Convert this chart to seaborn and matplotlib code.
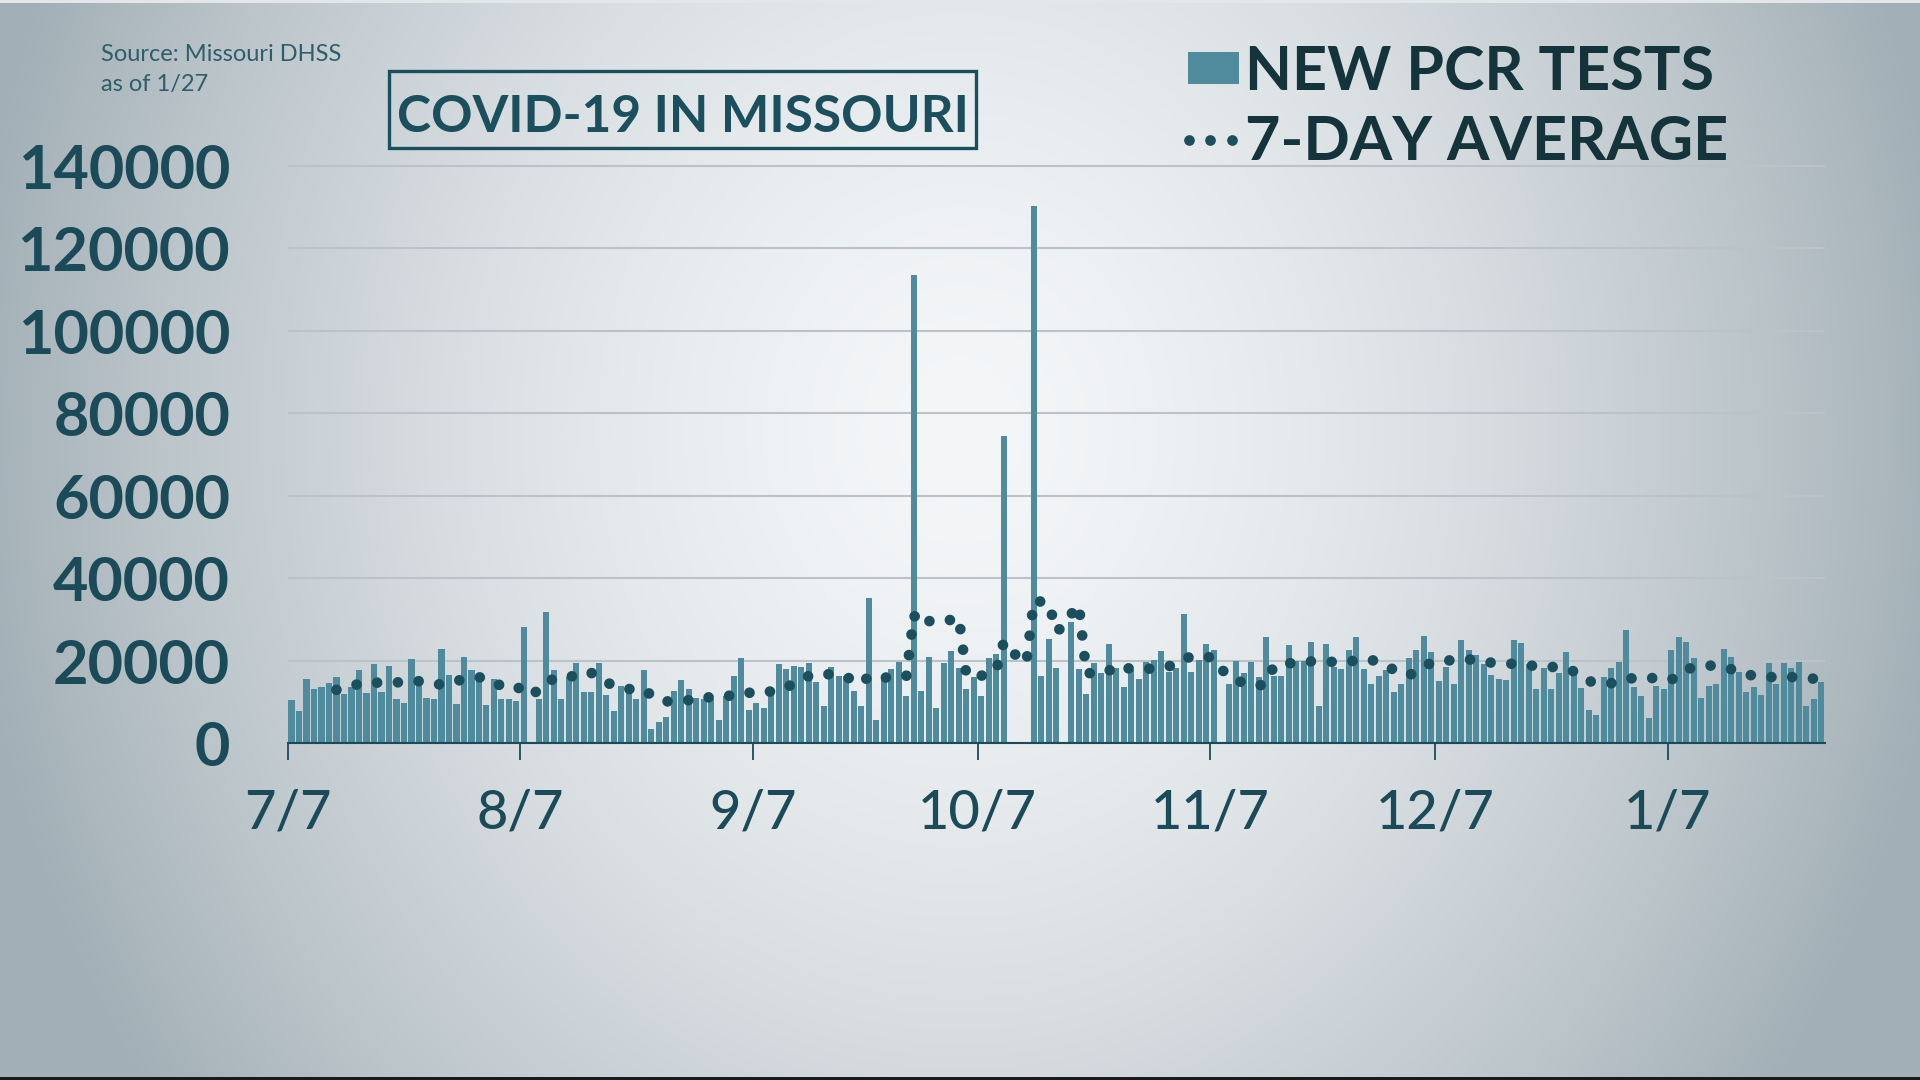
import numpy as np
import pandas as pd
import seaborn as sns
import matplotlib.pyplot as plt
from matplotlib.patches import Rectangle
from matplotlib.lines import Line2D

# daily new PCR tests, one value per day from 7/7 (day 0) to 1/27 (day 204); 0 = no report that day
tests = [
    10500, 7800, 15600, 13100, 13600, 14500, 16000, 11900, 13600, 17700,
    12200, 19100, 12400, 18800, 10700, 9800, 20300, 15000, 11000, 10700,
    22900, 16500, 9500, 20900, 17700, 15000, 9300, 15600, 10700, 10700,
    10100, 28100, 0, 10700, 31900, 17700, 10700, 16000, 19400, 12400,
    12400, 19400, 11600, 7800, 13900, 13900, 10700, 17700, 3400, 5200,
    6400, 12700, 15400, 13100, 11000, 10700, 10700, 5700, 11300, 16200,
    20600, 8100, 9800, 8400, 12400, 19100, 18000, 18800, 18500, 19400,
    14800, 9000, 18500, 16200, 16200, 12700, 9000, 35100, 5500, 15400,
    18000, 19700, 11500, 113500, 12700, 20800, 8400, 19400, 22300, 18200,
    13100, 16000, 11500, 20600, 21500, 74400, 0, 0, 0, 130200,
    16200, 25200, 18200, 0, 29400, 18000, 11800, 19300, 17100, 24000,
    18200, 13600, 17700, 15600, 19700, 20200, 22300, 17300, 18200, 31300,
    17300, 20200, 24000, 22600, 0, 14400, 20000, 17100, 19700, 16000,
    25700, 16200, 16200, 23700, 20000, 20000, 24600, 8900, 24000, 18500,
    18000, 22600, 25700, 18000, 14200, 16200, 17700, 12400, 14400, 20600,
    22600, 26000, 22000, 15100, 18500, 14200, 24900, 22600, 21400, 19100,
    16500, 15600, 15400, 25100, 24300, 19100, 13100, 18200, 13100, 17100,
    22000, 18200, 13300, 8100, 6900, 16000, 18200, 19700, 27500, 13600,
    11300, 6000, 13900, 13100, 22600, 25700, 24600, 20600, 11000, 13900,
    14400, 22900, 20800, 17300, 12400, 13600, 11600, 19300, 14400, 19300,
    18200, 19700, 8900, 10700, 14700,
]

# 7-day average, first value is day 6 (7/13)
avg_start = 6
avg7 = [
    12900, 13300, 13900, 14300, 14500, 14600, 14700, 14700, 14700, 14800,
    14900, 15000, 14700, 14300, 14200, 14600, 15100, 15400, 15700, 16000,
    15300, 14400, 14000, 14000, 13100, 13900, 12100, 12600, 14700, 15600,
    15700, 16300, 16000, 16900, 17000, 15800, 14600, 14100, 13500, 13100,
    12900, 12900, 11600, 10400, 10100, 10100, 10200, 10400, 10300, 10700,
    11300, 11300, 11400, 11600, 12200, 12200, 12100, 12000, 12600, 13400,
    13700, 14200, 15300, 16300, 16800, 16800, 16600, 16400, 16000, 15200,
    14400, 16200, 16000, 15800, 16100, 16400, 16300, 31000, 28500, 29600,
    29300, 29600, 29900, 30400, 16500, 16900, 16300, 17400, 17800, 24600,
    22800, 20200, 19500, 34500, 34300, 33900, 27100, 28300, 31300, 33500,
    16900, 17000, 16800, 17500, 18800, 18300, 18000, 18100, 18000, 18100,
    18200, 18600, 19300, 20500, 20900, 21200, 21000, 20500, 18000, 16000,
    15200, 14600, 14300, 13900, 14500, 18700, 19000, 19300, 19600, 19700,
    19800, 19800, 19700, 19700, 19700, 19800, 20000, 20200, 20200, 19500,
    18600, 17800, 17000, 16400, 17300, 18700, 19400, 19600, 20000, 20100,
    20200, 20300, 20000, 19700, 19500, 19400, 19300, 19200, 19000, 18800,
    18700, 18600, 18500, 18200, 17800, 17400, 16400, 15000, 14700, 14600,
    14500, 14800, 15400, 15800, 15900, 15800, 15700, 15500, 15300, 16700,
    17900, 18300, 18600, 18800, 18700, 18300, 17900, 17200, 16700, 16300,
    16100, 16000, 16000, 16000, 16000, 15900, 15800, 15600, 15500,
]

tick_days = [0, 31, 62, 92, 123, 153, 184]
tick_labels = ['7/7', '8/7', '9/7', '10/7', '11/7', '12/7', '1/7']
y_ticks = [0, 20000, 40000, 60000, 80000, 100000, 120000, 140000]

df = pd.DataFrame({'day': np.arange(len(tests)), 'tests': tests})
df_avg = pd.DataFrame({'day': np.arange(avg_start, avg_start + len(avg7)), 'avg': avg7})

BAR = '#4f8b9c'
DOT = '#1b4f5e'
TEXT = '#1b4a58'
LEG = '#15333b'
GRID = '#bcc3c8'

sns.set_style('white')
plt.rcParams['font.family'] = ['Lato', 'DejaVu Sans']

W, H = 1920, 1080
fig = plt.figure(figsize=(19.2, 10.8), dpi=100)

# background: soft radial gradient
yy, xx = np.mgrid[0:H, 0:W]
d = np.sqrt(((xx - 960) / 1000.0) ** 2 + ((yy - 430) / 1150.0) ** 2)
t = np.clip(d, 0, 1) ** 1.6
c0 = np.array([244, 246, 248]) / 255.0
c1 = np.array([162, 175, 182]) / 255.0
grad = c0 * (1 - t[..., None]) + c1 * t[..., None]
bg = fig.add_axes([0, 0, 1, 1], zorder=-10)
bg.imshow(grad, aspect='auto', extent=[0, 1, 0, 1], origin='upper')
bg.set_xlim(0, 1)
bg.set_ylim(0, 1)
bg.axis('off')

# main axes, placed in pixels
left, right, base = 287.7, 1825.0, 743.0
ymax = 142000
px_per_unit = 577.0 / 140000
top = base - ymax * px_per_unit
ax = fig.add_axes([left / W, (H - base) / H, (right - left) / W, (base - top) / H])
ax.patch.set_alpha(0)

sns.barplot(data=df, x='day', y='tests', native_scale=True, color=BAR, saturation=1,
            width=0.82, linewidth=0, errorbar=None, ax=ax, zorder=2)
sns.lineplot(data=df_avg, x='day', y='avg', ax=ax, color=DOT, lw=7.7,
             linestyle=(0, (0.001, 1.94)), dash_capstyle='round', errorbar=None, zorder=3)

ax.set_xlim(-0.5, len(tests) - 0.5)
ax.set_ylim(0, ymax)
ax.set_xticks([d - 0.5 for d in tick_days])
ax.set_xticklabels(tick_labels)
ax.set_yticks(y_ticks)
ax.set_yticklabels([str(v) for v in y_ticks])
ax.set_xlabel('')
ax.set_ylabel('')
ax.yaxis.grid(True, color=GRID, lw=1.5)
ax.xaxis.grid(False)
ax.set_axisbelow(True)
for s in ['left', 'top', 'right']:
    ax.spines[s].set_visible(False)
ax.spines['bottom'].set_color(TEXT)
ax.spines['bottom'].set_linewidth(1.5)
ax.tick_params(axis='x', length=12.5, width=1.3, color=TEXT, pad=20,
               labelsize=39, labelcolor=TEXT, bottom=True)
ax.tick_params(axis='y', length=0, pad=41.5, labelsize=44, labelcolor=TEXT, left=False)
for lab in ax.get_yticklabels():
    lab.set_fontweight('bold')
for lab in ax.get_xticklabels():
    lab.set_fontweight('medium')


def fx(x):
    return x / W


def fy(y):
    return 1 - y / H


# source note
fig.text(fx(101), fy(61), 'Source: Missouri DHSS', fontsize=17, color='#2f5e6b', va='baseline')
fig.text(fx(101), fy(90.5), 'as of 1/27', fontsize=17, color='#2f5e6b', va='baseline')

# boxed title
fig.add_artist(Rectangle((fx(389), fy(148.3)), (976 - 389) / W, (148.3 - 70.7) / H,
                         transform=fig.transFigure, fill=False, ec='#1b4f5e', lw=2.4))
fig.text(fx(682.5), fy(132), 'COVID-19 IN MISSOURI', ha='center', va='baseline',
         fontsize=37, fontweight='bold', color='#1b4f5e')

# legend
fig.add_artist(Rectangle((fx(1188), fy(84)), 51 / W, 32 / H, transform=fig.transFigure,
                         color=BAR, lw=0))
fig.text(fx(1245), fy(89.5), 'NEW PCR TESTS', fontsize=44, fontweight='bold', color=LEG,
         va='baseline')
fig.add_artist(Line2D([fx(1188.7), fx(1210.3), fx(1232)], [fy(140)] * 3, transform=fig.transFigure,
                      ls='none', marker='o', ms=7.7, mew=0, color=DOT))
fig.text(fx(1245), fy(160), '7-DAY AVERAGE', fontsize=44, fontweight='bold', color=LEG,
         va='baseline')

# thin frame edges of the graphic
fig.add_artist(Rectangle((0, 0), 1, 3 / H, transform=fig.transFigure, color='#1a1a1a', lw=0))
fig.add_artist(Rectangle((0, 1 - 3 / H), 1, 3 / H, transform=fig.transFigure, color='#e4e7e9', lw=0))

fig.savefig('out.png', dpi=100)
